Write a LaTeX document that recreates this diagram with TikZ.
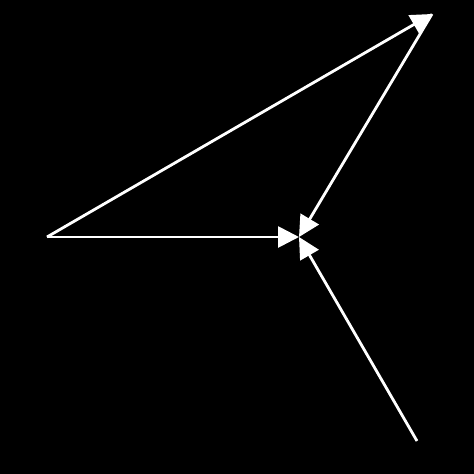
\documentclass[tikz,border=0pt]{standalone}
\usetikzlibrary{arrows.meta}
\begin{document}
\begin{tikzpicture}[x=1pt,y=-1pt,
  edge/.style={draw=white,line width=2.8pt,-{Triangle[length=21pt,width=21pt]}}]
\fill[black] (0,0) rectangle (474,474);
\useasboundingbox (0,0) rectangle (474,474);
\coordinate (A) at (47,237);
\coordinate (B) at (432,14);
\coordinate (C) at (299,237);
\coordinate (D) at (417,441);
\draw[edge] (A) -- (B);
\draw[edge] (A) -- (C);
\draw[edge] (B) -- (C);
\draw[edge] (D) -- (C);
\end{tikzpicture}
\end{document}
